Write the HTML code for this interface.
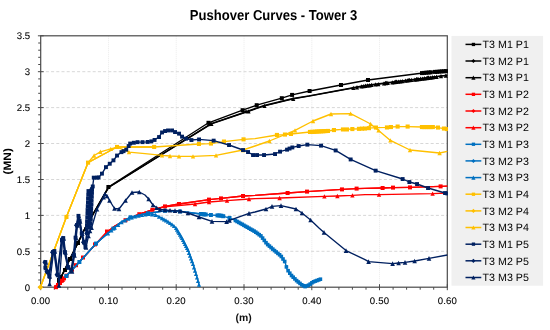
<!DOCTYPE html>
<html lang="en"><head><meta charset="utf-8"><title>Pushover Curves - Tower 3</title>
<style>html,body{margin:0;padding:0;background:#fff}svg{display:block}</style></head>
<body>
<svg width="550" height="330" viewBox="0 0 550 330" text-rendering="geometricPrecision">
<rect width="550" height="330" fill="#fff"/>
<line x1="40.7" x2="447.3" y1="251.3" y2="251.3" stroke="#cdcdcd" stroke-width="0.8" stroke-dasharray="3 2.2"/>
<line x1="40.7" x2="447.3" y1="215.4" y2="215.4" stroke="#cdcdcd" stroke-width="0.8" stroke-dasharray="3 2.2"/>
<line x1="40.7" x2="447.3" y1="179.5" y2="179.5" stroke="#cdcdcd" stroke-width="0.8" stroke-dasharray="3 2.2"/>
<line x1="40.7" x2="447.3" y1="143.5" y2="143.5" stroke="#cdcdcd" stroke-width="0.8" stroke-dasharray="3 2.2"/>
<line x1="40.7" x2="447.3" y1="107.6" y2="107.6" stroke="#cdcdcd" stroke-width="0.8" stroke-dasharray="3 2.2"/>
<line x1="40.7" x2="447.3" y1="71.7" y2="71.7" stroke="#cdcdcd" stroke-width="0.8" stroke-dasharray="3 2.2"/>
<line x1="108.5" x2="108.5" y1="35.8" y2="287.2" stroke="#e4e4e4" stroke-width="0.7" stroke-dasharray="1 1"/>
<line x1="176.2" x2="176.2" y1="35.8" y2="287.2" stroke="#e4e4e4" stroke-width="0.7" stroke-dasharray="1 1"/>
<line x1="244.0" x2="244.0" y1="35.8" y2="287.2" stroke="#e4e4e4" stroke-width="0.7" stroke-dasharray="1 1"/>
<line x1="311.8" x2="311.8" y1="35.8" y2="287.2" stroke="#e4e4e4" stroke-width="0.7" stroke-dasharray="1 1"/>
<line x1="379.5" x2="379.5" y1="35.8" y2="287.2" stroke="#e4e4e4" stroke-width="0.7" stroke-dasharray="1 1"/>
<rect x="40.7" y="35.8" width="406.6" height="251.4" fill="none" stroke="#4a4a4a" stroke-width="1.2"/>
<path d="M37.9 287.2H43.7M38.2 280.0H40.7M38.2 272.8H40.7M38.2 265.7H40.7M38.2 258.5H40.7M37.9 251.3H43.7M38.2 244.1H40.7M38.2 236.9H40.7M38.2 229.7H40.7M38.2 222.6H40.7M37.9 215.4H43.7M38.2 208.2H40.7M38.2 201.0H40.7M38.2 193.8H40.7M38.2 186.6H40.7M37.9 179.5H43.7M38.2 172.3H40.7M38.2 165.1H40.7M38.2 157.9H40.7M38.2 150.7H40.7M37.9 143.5H43.7M38.2 136.4H40.7M38.2 129.2H40.7M38.2 122.0H40.7M38.2 114.8H40.7M37.9 107.6H43.7M38.2 100.4H40.7M38.2 93.3H40.7M38.2 86.1H40.7M38.2 78.9H40.7M37.9 71.7H43.7M38.2 64.5H40.7M38.2 57.3H40.7M38.2 50.2H40.7M38.2 43.0H40.7M37.9 35.8H43.7M40.7 284.2V290.2M54.3 287.2V289.7M67.8 287.2V289.7M81.4 287.2V289.7M94.9 287.2V289.7M108.5 284.2V290.2M122.0 287.2V289.7M135.6 287.2V289.7M149.1 287.2V289.7M162.7 287.2V289.7M176.2 284.2V290.2M189.8 287.2V289.7M203.3 287.2V289.7M216.9 287.2V289.7M230.4 287.2V289.7M244.0 284.2V290.2M257.6 287.2V289.7M271.1 287.2V289.7M284.7 287.2V289.7M298.2 287.2V289.7M311.8 284.2V290.2M325.3 287.2V289.7M338.9 287.2V289.7M352.4 287.2V289.7M366.0 287.2V289.7M379.5 284.2V290.2M393.1 287.2V289.7M406.6 287.2V289.7M420.2 287.2V289.7M433.7 287.2V289.7M447.3 284.2V290.2" stroke="#4a4a4a" stroke-width="1" fill="none"/>
<svg x="37.7" y="32.8" width="410.2" height="257.4" viewBox="37.7 32.8 410.2 257.4">
<polyline fill="none" stroke="#000000" stroke-width="1.35" stroke-linejoin="round" points="56.0,287.2 59.0,280.0 61.0,277.0 65.0,270.0 70.0,259.0 78.0,243.0 86.0,226.0 108.4,187.0 208.5,122.8 242.6,110.2 256.7,105.2 281.8,98.2 292.1,94.9 309.6,91.0 341.0,85.0 368.0,80.0 423.0,73.0 434.0,72.0 447.3,71.0"/>
<rect x="57.0" y="278.0" width="4.0" height="4.0" fill="#000000"/><rect x="59.0" y="275.0" width="4.0" height="4.0" fill="#000000"/><rect x="63.0" y="268.0" width="4.0" height="4.0" fill="#000000"/><rect x="68.0" y="257.0" width="4.0" height="4.0" fill="#000000"/><rect x="76.0" y="241.0" width="4.0" height="4.0" fill="#000000"/><rect x="106.4" y="185.0" width="4.0" height="4.0" fill="#000000"/><rect x="206.5" y="120.8" width="4.0" height="4.0" fill="#000000"/><rect x="240.6" y="108.2" width="4.0" height="4.0" fill="#000000"/><rect x="254.7" y="103.2" width="4.0" height="4.0" fill="#000000"/><rect x="279.8" y="96.2" width="4.0" height="4.0" fill="#000000"/><rect x="290.1" y="92.9" width="4.0" height="4.0" fill="#000000"/><rect x="307.6" y="89.0" width="4.0" height="4.0" fill="#000000"/><rect x="339.0" y="83.0" width="4.0" height="4.0" fill="#000000"/><rect x="366.0" y="78.0" width="4.0" height="4.0" fill="#000000"/><rect x="420.0" y="71.1" width="4.0" height="4.0" fill="#000000"/><rect x="422.2" y="70.9" width="4.0" height="4.0" fill="#000000"/><rect x="424.4" y="70.7" width="4.0" height="4.0" fill="#000000"/><rect x="426.6" y="70.5" width="4.0" height="4.0" fill="#000000"/><rect x="428.8" y="70.3" width="4.0" height="4.0" fill="#000000"/><rect x="433.0" y="69.9" width="4.0" height="4.0" fill="#000000"/><rect x="435.2" y="69.8" width="4.0" height="4.0" fill="#000000"/><rect x="437.4" y="69.6" width="4.0" height="4.0" fill="#000000"/><rect x="439.6" y="69.4" width="4.0" height="4.0" fill="#000000"/><rect x="441.8" y="69.3" width="4.0" height="4.0" fill="#000000"/><rect x="444.0" y="69.1" width="4.0" height="4.0" fill="#000000"/>
<polyline fill="none" stroke="#000000" stroke-width="1.35" stroke-linejoin="round" points="56.0,287.2 86.0,226.3 108.6,187.3 211.2,123.6 248.3,111.0 264.2,105.5 293.0,98.5 309.0,95.9 365.0,85.5 447.3,75.1"/>
<path d="M108.6 185.3L110.6 187.3L108.6 189.3L106.6 187.3Z" fill="#000000"/><path d="M209.8 122.5L211.8 124.5L209.8 126.5L207.8 124.5Z" fill="#000000"/><path d="M246.0 109.8L248.0 111.8L246.0 113.8L244.0 111.8Z" fill="#000000"/><path d="M386.0 80.8L388.0 82.8L386.0 84.8L384.0 82.8Z" fill="#000000"/><path d="M396.0 79.6L398.0 81.6L396.0 83.6L394.0 81.6Z" fill="#000000"/><path d="M409.0 77.9L411.0 79.9L409.0 81.9L407.0 79.9Z" fill="#000000"/><path d="M417.0 76.9L419.0 78.9L417.0 80.9L415.0 78.9Z" fill="#000000"/><path d="M428.0 75.5L430.0 77.5L428.0 79.5L426.0 77.5Z" fill="#000000"/>
<polyline fill="none" stroke="#000000" stroke-width="1.35" stroke-linejoin="round" points="56.0,287.2 86.0,226.5 108.7,187.5 211.4,123.9 248.5,111.3 264.4,105.8 293.2,98.8 309.0,96.2 365.0,85.8 447.3,75.4"/>
<path d="M211.4 121.8L213.5 126.0L209.3 126.0Z" fill="#000000"/><path d="M248.5 109.2L250.6 113.4L246.4 113.4Z" fill="#000000"/><path d="M264.4 103.7L266.5 107.9L262.3 107.9Z" fill="#000000"/><path d="M293.2 96.7L295.3 100.9L291.1 100.9Z" fill="#000000"/><path d="M353.3 85.8L355.4 90.1L351.2 90.1Z" fill="#000000"/><path d="M357.0 85.1L359.1 89.4L354.9 89.4Z" fill="#000000"/><path d="M361.5 84.3L363.6 88.6L359.4 88.6Z" fill="#000000"/><path d="M363.5 83.9L365.6 88.2L361.4 88.2Z" fill="#000000"/><path d="M365.5 83.6L367.6 87.9L363.4 87.9Z" fill="#000000"/><path d="M367.5 83.3L369.6 87.6L365.4 87.6Z" fill="#000000"/><path d="M369.5 83.1L371.6 87.4L367.4 87.4Z" fill="#000000"/><path d="M371.5 82.8L373.6 87.1L369.4 87.1Z" fill="#000000"/><path d="M375.5 82.3L377.6 86.6L373.4 86.6Z" fill="#000000"/><path d="M378.3 82.0L380.4 86.3L376.2 86.3Z" fill="#000000"/><path d="M384.0 81.3L386.1 85.5L381.9 85.5Z" fill="#000000"/><path d="M385.9 81.0L388.0 85.3L383.8 85.3Z" fill="#000000"/><path d="M387.8 80.8L389.9 85.1L385.7 85.1Z" fill="#000000"/><path d="M392.4 80.2L394.5 84.5L390.3 84.5Z" fill="#000000"/><path d="M394.4 79.9L396.5 84.2L392.3 84.2Z" fill="#000000"/><path d="M396.4 79.7L398.5 84.0L394.3 84.0Z" fill="#000000"/><path d="M398.4 79.4L400.5 83.7L396.3 83.7Z" fill="#000000"/><path d="M400.4 79.2L402.5 83.5L398.3 83.5Z" fill="#000000"/><path d="M402.4 78.9L404.5 83.2L400.3 83.2Z" fill="#000000"/><path d="M405.6 78.5L407.7 82.8L403.5 82.8Z" fill="#000000"/><path d="M407.5 78.3L409.6 82.6L405.4 82.6Z" fill="#000000"/><path d="M409.4 78.0L411.5 82.3L407.3 82.3Z" fill="#000000"/><path d="M411.3 77.8L413.4 82.1L409.2 82.1Z" fill="#000000"/><path d="M414.8 77.4L416.9 81.7L412.7 81.7Z" fill="#000000"/><path d="M416.7 77.1L418.8 81.4L414.6 81.4Z" fill="#000000"/><path d="M418.6 76.9L420.7 81.2L416.5 81.2Z" fill="#000000"/><path d="M420.5 76.6L422.6 80.9L418.4 80.9Z" fill="#000000"/><path d="M422.6 76.4L424.7 80.7L420.5 80.7Z" fill="#000000"/><path d="M424.6 76.1L426.7 80.4L422.5 80.4Z" fill="#000000"/><path d="M426.6 75.9L428.7 80.2L424.5 80.2Z" fill="#000000"/><path d="M428.6 75.6L430.7 79.9L426.5 79.9Z" fill="#000000"/><path d="M430.6 75.4L432.7 79.7L428.5 79.7Z" fill="#000000"/><path d="M432.6 75.1L434.7 79.4L430.5 79.4Z" fill="#000000"/><path d="M434.6 74.9L436.7 79.1L432.5 79.1Z" fill="#000000"/><path d="M436.6 74.6L438.7 78.9L434.5 78.9Z" fill="#000000"/><path d="M441.0 74.1L443.1 78.3L438.9 78.3Z" fill="#000000"/><path d="M445.8 73.4L447.9 77.7L443.7 77.7Z" fill="#000000"/>
<polyline fill="none" stroke="#FF0000" stroke-width="1.35" stroke-linejoin="round" points="56.0,287.2 105.8,233.3 114.5,226.3 125.5,220.2 139.3,214.2 152.4,209.8 165.0,206.4 179.0,204.0 209.0,199.6 221.0,198.4 243.0,196.0 255.0,195.4 287.6,193.0 307.0,191.6 342.0,189.4 356.6,188.6 365.0,188.4 382.6,188.0 393.0,187.6 410.0,187.4 440.6,186.4 447.3,186.2"/>
<rect x="54.0" y="285.2" width="4.0" height="4.0" fill="#FF0000"/><rect x="56.0" y="283.0" width="4.0" height="4.0" fill="#FF0000"/><rect x="58.0" y="280.8" width="4.0" height="4.0" fill="#FF0000"/><rect x="60.0" y="278.6" width="4.0" height="4.0" fill="#FF0000"/><rect x="62.0" y="276.4" width="4.0" height="4.0" fill="#FF0000"/><rect x="64.5" y="273.7" width="4.0" height="4.0" fill="#FF0000"/><rect x="70.0" y="267.6" width="4.0" height="4.0" fill="#FF0000"/><rect x="74.0" y="263.2" width="4.0" height="4.0" fill="#FF0000"/><rect x="81.0" y="255.5" width="4.0" height="4.0" fill="#FF0000"/><rect x="93.0" y="242.4" width="4.0" height="4.0" fill="#FF0000"/><rect x="105.0" y="229.5" width="4.0" height="4.0" fill="#FF0000"/><rect x="123.5" y="218.2" width="4.0" height="4.0" fill="#FF0000"/><rect x="137.3" y="212.2" width="4.0" height="4.0" fill="#FF0000"/><rect x="150.4" y="207.8" width="4.0" height="4.0" fill="#FF0000"/><rect x="163.0" y="204.4" width="4.0" height="4.0" fill="#FF0000"/><rect x="177.0" y="202.0" width="4.0" height="4.0" fill="#FF0000"/><rect x="207.0" y="197.6" width="4.0" height="4.0" fill="#FF0000"/><rect x="219.0" y="196.4" width="4.0" height="4.0" fill="#FF0000"/><rect x="241.0" y="194.0" width="4.0" height="4.0" fill="#FF0000"/><rect x="285.6" y="191.0" width="4.0" height="4.0" fill="#FF0000"/><rect x="305.0" y="189.6" width="4.0" height="4.0" fill="#FF0000"/><rect x="340.0" y="187.4" width="4.0" height="4.0" fill="#FF0000"/><rect x="354.6" y="186.6" width="4.0" height="4.0" fill="#FF0000"/><rect x="380.6" y="186.0" width="4.0" height="4.0" fill="#FF0000"/><rect x="391.0" y="185.6" width="4.0" height="4.0" fill="#FF0000"/><rect x="408.0" y="185.4" width="4.0" height="4.0" fill="#FF0000"/><rect x="438.6" y="184.4" width="4.0" height="4.0" fill="#FF0000"/>
<polyline fill="none" stroke="#FF0000" stroke-width="1.35" stroke-linejoin="round" points="56.0,287.2 105.8,233.3 114.5,226.3 125.5,220.2 139.3,214.2 152.4,209.8 165.0,206.4 179.0,204.0 209.0,199.6 221.0,198.4 243.0,196.0 255.0,195.4 287.6,193.0 307.0,191.6 342.0,189.4 356.6,188.6 365.0,188.4 382.6,188.0 393.0,187.6 410.0,187.4 440.6,186.4 447.3,186.2"/>
<path d="M57.0 283.6L59.5 286.1L57.0 288.6L54.5 286.1Z" fill="#FF0000"/><path d="M59.0 281.4L61.5 283.9L59.0 286.4L56.5 283.9Z" fill="#FF0000"/><path d="M61.0 279.2L63.5 281.7L61.0 284.2L58.5 281.7Z" fill="#FF0000"/>
<polyline fill="none" stroke="#FF0000" stroke-width="1.35" stroke-linejoin="round" points="56.0,287.2 105.8,233.3 114.5,226.3 125.5,220.2 139.3,214.2 152.4,210.0 165.0,206.8 195.0,204.0 209.0,202.0 227.0,200.6 249.0,199.0 255.0,198.6 279.6,198.0 324.4,196.4 337.4,196.0 352.4,195.4 365.0,194.6 379.0,194.6 432.6,193.6 447.3,193.0"/>
<path d="M57.5 283.4L59.7 287.8L55.3 287.8Z" fill="#FF0000"/><path d="M60.0 280.6L62.2 285.0L57.8 285.0Z" fill="#FF0000"/><path d="M63.0 277.3L65.2 281.7L60.8 281.7Z" fill="#FF0000"/><path d="M195.0 201.8L197.2 206.2L192.8 206.2Z" fill="#FF0000"/><path d="M209.0 199.8L211.2 204.2L206.8 204.2Z" fill="#FF0000"/><path d="M227.0 198.4L229.2 202.8L224.8 202.8Z" fill="#FF0000"/><path d="M249.0 196.8L251.2 201.2L246.8 201.2Z" fill="#FF0000"/><path d="M279.6 195.8L281.8 200.2L277.4 200.2Z" fill="#FF0000"/><path d="M324.4 194.2L326.6 198.6L322.2 198.6Z" fill="#FF0000"/><path d="M337.4 193.8L339.6 198.2L335.2 198.2Z" fill="#FF0000"/><path d="M352.4 193.2L354.6 197.6L350.2 197.6Z" fill="#FF0000"/><path d="M379.0 192.4L381.2 196.8L376.8 196.8Z" fill="#FF0000"/><path d="M432.6 191.4L434.8 195.8L430.4 195.8Z" fill="#FF0000"/>
<polyline fill="none" stroke="#0070C0" stroke-width="1.35" stroke-linejoin="round" points="66.4,276.0 79.4,262.0 96.0,243.6 113.4,228.6 121.8,221.6 130.5,217.3 139.3,215.0 148.0,213.3 157.0,212.0 165.0,210.8 175.0,211.0 185.0,212.0 201.0,214.0 211.0,215.0 221.0,215.6 229.0,217.8 233.8,219.6 245.5,226.2 255.0,231.6 261.0,236.0 267.0,244.0 275.0,251.0 281.0,256.0 285.0,262.0 287.0,269.0 291.0,275.0 297.0,281.0 302.0,285.0 305.0,286.6 309.0,285.0 313.0,282.0 321.0,279.0"/>
<rect x="64.4" y="274.0" width="4.0" height="4.0" fill="#0070C0"/><rect x="77.4" y="260.0" width="4.0" height="4.0" fill="#0070C0"/><rect x="94.0" y="241.6" width="4.0" height="4.0" fill="#0070C0"/><rect x="111.4" y="226.6" width="4.0" height="4.0" fill="#0070C0"/><rect x="128.5" y="215.3" width="4.0" height="4.0" fill="#0070C0"/><rect x="146.0" y="211.3" width="4.0" height="4.0" fill="#0070C0"/><rect x="163.0" y="208.8" width="4.0" height="4.0" fill="#0070C0"/><rect x="178.0" y="209.5" width="4.0" height="4.0" fill="#0070C0"/><rect x="198.9" y="212.0" width="4.0" height="4.0" fill="#0070C0"/><rect x="200.5" y="212.2" width="4.0" height="4.0" fill="#0070C0"/><rect x="202.1" y="212.3" width="4.0" height="4.0" fill="#0070C0"/><rect x="203.7" y="212.5" width="4.0" height="4.0" fill="#0070C0"/><rect x="208.9" y="213.0" width="4.0" height="4.0" fill="#0070C0"/><rect x="215.5" y="213.4" width="4.0" height="4.0" fill="#0070C0"/><rect x="217.4" y="213.5" width="4.0" height="4.0" fill="#0070C0"/><rect x="219.3" y="213.7" width="4.0" height="4.0" fill="#0070C0"/><rect x="221.2" y="214.2" width="4.0" height="4.0" fill="#0070C0"/><rect x="227.5" y="216.0" width="4.0" height="4.0" fill="#0070C0"/>
<rect x="233.6" y="218.7" width="3.6" height="3.6" fill="#0070C0"/><rect x="235.3" y="219.7" width="3.6" height="3.6" fill="#0070C0"/><rect x="237.0" y="220.6" width="3.6" height="3.6" fill="#0070C0"/><rect x="238.7" y="221.6" width="3.6" height="3.6" fill="#0070C0"/><rect x="240.4" y="222.5" width="3.6" height="3.6" fill="#0070C0"/><rect x="242.1" y="223.5" width="3.6" height="3.6" fill="#0070C0"/><rect x="243.8" y="224.5" width="3.6" height="3.6" fill="#0070C0"/><rect x="245.5" y="225.4" width="3.6" height="3.6" fill="#0070C0"/><rect x="247.2" y="226.4" width="3.6" height="3.6" fill="#0070C0"/><rect x="248.9" y="227.4" width="3.6" height="3.6" fill="#0070C0"/><rect x="250.6" y="228.3" width="3.6" height="3.6" fill="#0070C0"/><rect x="252.3" y="229.3" width="3.6" height="3.6" fill="#0070C0"/><rect x="254.0" y="230.4" width="3.6" height="3.6" fill="#0070C0"/><rect x="255.7" y="231.6" width="3.6" height="3.6" fill="#0070C0"/><rect x="257.4" y="232.9" width="3.6" height="3.6" fill="#0070C0"/><rect x="259.1" y="234.1" width="3.6" height="3.6" fill="#0070C0"/><rect x="260.8" y="236.3" width="3.6" height="3.6" fill="#0070C0"/><rect x="262.5" y="238.6" width="3.6" height="3.6" fill="#0070C0"/><rect x="264.2" y="240.9" width="3.6" height="3.6" fill="#0070C0"/><rect x="265.9" y="242.8" width="3.6" height="3.6" fill="#0070C0"/><rect x="267.6" y="244.3" width="3.6" height="3.6" fill="#0070C0"/><rect x="269.3" y="245.8" width="3.6" height="3.6" fill="#0070C0"/><rect x="271.0" y="247.3" width="3.6" height="3.6" fill="#0070C0"/><rect x="272.7" y="248.8" width="3.6" height="3.6" fill="#0070C0"/><rect x="274.4" y="250.2" width="3.6" height="3.6" fill="#0070C0"/><rect x="276.1" y="251.6" width="3.6" height="3.6" fill="#0070C0"/><rect x="277.8" y="253.0" width="3.6" height="3.6" fill="#0070C0"/><rect x="279.5" y="254.7" width="3.6" height="3.6" fill="#0070C0"/><rect x="281.2" y="257.2" width="3.6" height="3.6" fill="#0070C0"/><rect x="282.9" y="259.7" width="3.6" height="3.6" fill="#0070C0"/><rect x="284.6" y="265.1" width="3.6" height="3.6" fill="#0070C0"/><rect x="286.3" y="268.9" width="3.6" height="3.6" fill="#0070C0"/><rect x="288.0" y="271.4" width="3.6" height="3.6" fill="#0070C0"/><rect x="289.7" y="273.7" width="3.6" height="3.6" fill="#0070C0"/><rect x="291.4" y="275.4" width="3.6" height="3.6" fill="#0070C0"/><rect x="293.1" y="277.1" width="3.6" height="3.6" fill="#0070C0"/><rect x="294.8" y="278.8" width="3.6" height="3.6" fill="#0070C0"/><rect x="296.5" y="280.2" width="3.6" height="3.6" fill="#0070C0"/><rect x="298.2" y="281.6" width="3.6" height="3.6" fill="#0070C0"/><rect x="299.9" y="283.0" width="3.6" height="3.6" fill="#0070C0"/><rect x="301.6" y="283.9" width="3.6" height="3.6" fill="#0070C0"/><rect x="303.3" y="284.8" width="3.6" height="3.6" fill="#0070C0"/><rect x="305.0" y="284.1" width="3.6" height="3.6" fill="#0070C0"/><rect x="306.7" y="283.4" width="3.6" height="3.6" fill="#0070C0"/><rect x="308.4" y="282.3" width="3.6" height="3.6" fill="#0070C0"/><rect x="310.1" y="281.0" width="3.6" height="3.6" fill="#0070C0"/><rect x="311.8" y="280.0" width="3.6" height="3.6" fill="#0070C0"/><rect x="313.5" y="279.3" width="3.6" height="3.6" fill="#0070C0"/><rect x="315.2" y="278.7" width="3.6" height="3.6" fill="#0070C0"/><rect x="316.9" y="278.1" width="3.6" height="3.6" fill="#0070C0"/><rect x="318.6" y="277.4" width="3.6" height="3.6" fill="#0070C0"/>
<polyline fill="none" stroke="#0070C0" stroke-width="1.35" stroke-linejoin="round" points="66.4,276.0 79.4,262.0 96.0,243.6 113.4,228.6 121.8,221.6 130.5,217.3 139.3,215.0 148.0,213.3 157.0,212.0 165.0,210.8 175.0,211.0 185.0,212.0 201.0,214.0"/>
<path d="M66.4 273.9L68.5 276.0L66.4 278.1L64.3 276.0Z" fill="#0070C0"/><path d="M96.0 241.5L98.1 243.6L96.0 245.7L93.9 243.6Z" fill="#0070C0"/>
<polyline fill="none" stroke="#0070C0" stroke-width="1.35" stroke-linejoin="round" points="66.4,276.0 79.4,262.0 96.0,243.6 113.4,228.8 121.8,221.9 130.5,217.6 139.3,215.4 148.0,213.8 155.0,214.6 161.0,217.6 167.0,221.0 173.0,225.0 176.0,228.0 182.0,238.0 188.0,250.0 193.0,264.0 196.6,276.0 199.6,286.8"/>
<path d="M108.0 231.3L110.1 235.5L105.9 235.5Z" fill="#0070C0"/><path d="M111.4 228.4L113.5 232.6L109.3 232.6Z" fill="#0070C0"/><path d="M114.8 225.6L116.9 229.7L112.7 229.7Z" fill="#0070C0"/><path d="M118.2 222.8L120.3 226.9L116.1 226.9Z" fill="#0070C0"/><path d="M121.6 220.0L123.7 224.2L119.5 224.2Z" fill="#0070C0"/><path d="M125.0 218.2L127.1 222.4L122.9 222.4Z" fill="#0070C0"/><path d="M128.4 216.5L130.5 220.7L126.3 220.7Z" fill="#0070C0"/><path d="M131.8 215.2L133.9 219.4L129.7 219.4Z" fill="#0070C0"/><path d="M135.2 214.3L137.3 218.5L133.1 218.5Z" fill="#0070C0"/><path d="M138.6 213.5L140.7 217.7L136.5 217.7Z" fill="#0070C0"/><path d="M142.0 212.8L144.1 217.0L139.9 217.0Z" fill="#0070C0"/><path d="M145.4 212.2L147.5 216.4L143.3 216.4Z" fill="#0070C0"/><path d="M148.8 211.8L150.9 216.0L146.7 216.0Z" fill="#0070C0"/><path d="M152.2 212.2L154.3 216.4L150.1 216.4Z" fill="#0070C0"/><path d="M155.6 212.8L157.7 217.0L153.5 217.0Z" fill="#0070C0"/><path d="M159.0 214.5L161.1 218.7L156.9 218.7Z" fill="#0070C0"/><path d="M162.0 216.1L164.1 220.3L159.9 220.3Z" fill="#0070C0"/><path d="M164.0 217.2L166.1 221.4L161.9 221.4Z" fill="#0070C0"/><path d="M166.0 218.3L168.1 222.5L163.9 222.5Z" fill="#0070C0"/><path d="M168.0 219.6L170.1 223.8L165.9 223.8Z" fill="#0070C0"/><path d="M170.0 220.9L172.1 225.1L167.9 225.1Z" fill="#0070C0"/><path d="M172.0 222.2L174.1 226.4L169.9 226.4Z" fill="#0070C0"/><path d="M174.0 223.9L176.1 228.1L171.9 228.1Z" fill="#0070C0"/><path d="M176.0 225.9L178.1 230.1L173.9 230.1Z" fill="#0070C0"/><path d="M177.0 227.6L179.1 231.8L174.9 231.8Z" fill="#0070C0"/><path d="M178.0 229.2L180.1 233.4L175.9 233.4Z" fill="#0070C0"/><path d="M179.0 230.9L181.1 235.1L176.9 235.1Z" fill="#0070C0"/><path d="M180.0 232.6L182.1 236.8L177.9 236.8Z" fill="#0070C0"/><path d="M181.0 234.2L183.1 238.4L178.9 238.4Z" fill="#0070C0"/><path d="M182.0 235.9L184.1 240.1L179.9 240.1Z" fill="#0070C0"/><path d="M183.0 237.9L185.1 242.1L180.9 242.1Z" fill="#0070C0"/><path d="M184.0 239.9L186.1 244.1L181.9 244.1Z" fill="#0070C0"/><path d="M185.0 241.9L187.1 246.1L182.9 246.1Z" fill="#0070C0"/><path d="M186.0 243.9L188.1 248.1L183.9 248.1Z" fill="#0070C0"/><path d="M187.0 245.9L189.1 250.1L184.9 250.1Z" fill="#0070C0"/><path d="M188.0 247.9L190.1 252.1L185.9 252.1Z" fill="#0070C0"/><path d="M189.0 250.7L191.1 254.9L186.9 254.9Z" fill="#0070C0"/><path d="M190.0 253.5L192.1 257.7L187.9 257.7Z" fill="#0070C0"/><path d="M191.0 256.3L193.1 260.5L188.9 260.5Z" fill="#0070C0"/><path d="M192.0 259.1L194.1 263.3L189.9 263.3Z" fill="#0070C0"/><path d="M193.0 261.9L195.1 266.1L190.9 266.1Z" fill="#0070C0"/><path d="M194.0 265.2L196.1 269.4L191.9 269.4Z" fill="#0070C0"/><path d="M195.0 268.6L197.1 272.8L192.9 272.8Z" fill="#0070C0"/><path d="M196.0 271.9L198.1 276.1L193.9 276.1Z" fill="#0070C0"/><path d="M197.0 275.4L199.1 279.5L194.9 279.5Z" fill="#0070C0"/><path d="M198.0 279.0L200.1 283.1L195.9 283.1Z" fill="#0070C0"/><path d="M199.0 282.6L201.1 286.7L196.9 286.7Z" fill="#0070C0"/>
<polyline fill="none" stroke="#FFC000" stroke-width="1.35" stroke-linejoin="round" points="40.4,287.2 66.4,217.0 88.0,162.7 117.1,147.0 154.2,147.0 199.0,144.0 211.0,143.6 224.0,141.6 243.6,139.4 255.0,138.6 277.0,135.0 285.0,134.6 291.0,134.0 310.0,132.0 328.0,131.0 334.0,130.0 343.0,129.4 347.0,129.4 352.4,129.0 365.0,128.6 369.0,128.2 376.0,127.6 387.0,127.4 391.0,127.0 397.6,126.6 407.6,126.6 422.0,127.0 433.0,127.0 438.0,127.6 444.0,128.6 447.3,129.0"/>
<rect x="64.4" y="214.9" width="4.1" height="4.1" fill="#FFC000"/><rect x="86.0" y="160.6" width="4.1" height="4.1" fill="#FFC000"/><rect x="115.0" y="144.9" width="4.1" height="4.1" fill="#FFC000"/><rect x="152.1" y="144.9" width="4.1" height="4.1" fill="#FFC000"/><rect x="196.9" y="141.9" width="4.1" height="4.1" fill="#FFC000"/><rect x="208.9" y="141.5" width="4.1" height="4.1" fill="#FFC000"/><rect x="221.9" y="139.5" width="4.1" height="4.1" fill="#FFC000"/><rect x="241.5" y="137.3" width="4.1" height="4.1" fill="#FFC000"/><rect x="274.9" y="132.9" width="4.1" height="4.1" fill="#FFC000"/><rect x="282.9" y="132.5" width="4.1" height="4.1" fill="#FFC000"/><rect x="288.9" y="131.9" width="4.1" height="4.1" fill="#FFC000"/><rect x="307.9" y="129.9" width="4.1" height="4.1" fill="#FFC000"/><rect x="309.8" y="129.8" width="4.1" height="4.1" fill="#FFC000"/><rect x="311.6" y="129.8" width="4.1" height="4.1" fill="#FFC000"/><rect x="313.3" y="129.6" width="4.1" height="4.1" fill="#FFC000"/><rect x="315.1" y="129.5" width="4.1" height="4.1" fill="#FFC000"/><rect x="316.9" y="129.4" width="4.1" height="4.1" fill="#FFC000"/><rect x="318.8" y="129.3" width="4.1" height="4.1" fill="#FFC000"/><rect x="320.6" y="129.2" width="4.1" height="4.1" fill="#FFC000"/><rect x="322.3" y="129.1" width="4.1" height="4.1" fill="#FFC000"/><rect x="324.1" y="129.0" width="4.1" height="4.1" fill="#FFC000"/><rect x="325.9" y="128.9" width="4.1" height="4.1" fill="#FFC000"/><rect x="331.9" y="128.0" width="4.1" height="4.1" fill="#FFC000"/><rect x="340.9" y="127.4" width="4.1" height="4.1" fill="#FFC000"/><rect x="344.9" y="127.4" width="4.1" height="4.1" fill="#FFC000"/><rect x="350.3" y="127.0" width="4.1" height="4.1" fill="#FFC000"/><rect x="356.9" y="126.8" width="4.1" height="4.1" fill="#FFC000"/><rect x="359.9" y="126.6" width="4.1" height="4.1" fill="#FFC000"/><rect x="362.9" y="126.5" width="4.1" height="4.1" fill="#FFC000"/><rect x="366.9" y="126.1" width="4.1" height="4.1" fill="#FFC000"/><rect x="373.9" y="125.5" width="4.1" height="4.1" fill="#FFC000"/><rect x="384.9" y="125.4" width="4.1" height="4.1" fill="#FFC000"/><rect x="388.9" y="125.0" width="4.1" height="4.1" fill="#FFC000"/><rect x="395.6" y="124.5" width="4.1" height="4.1" fill="#FFC000"/><rect x="405.6" y="124.5" width="4.1" height="4.1" fill="#FFC000"/><rect x="419.9" y="125.0" width="4.1" height="4.1" fill="#FFC000"/><rect x="421.8" y="125.0" width="4.1" height="4.1" fill="#FFC000"/><rect x="423.6" y="125.0" width="4.1" height="4.1" fill="#FFC000"/><rect x="425.3" y="125.0" width="4.1" height="4.1" fill="#FFC000"/><rect x="427.1" y="125.0" width="4.1" height="4.1" fill="#FFC000"/><rect x="428.9" y="125.0" width="4.1" height="4.1" fill="#FFC000"/><rect x="430.8" y="125.0" width="4.1" height="4.1" fill="#FFC000"/><rect x="435.9" y="125.5" width="4.1" height="4.1" fill="#FFC000"/><rect x="441.9" y="126.5" width="4.1" height="4.1" fill="#FFC000"/><rect x="444.9" y="127.0" width="4.1" height="4.1" fill="#FFC000"/>
<polyline fill="none" stroke="#FFC000" stroke-width="1.35" stroke-linejoin="round" points="40.4,287.2 66.4,217.0 88.0,162.7 117.1,147.0 154.2,147.0"/>
<path d="M40.4 284.3L43.3 287.2L40.4 290.1L37.5 287.2Z" fill="#FFC000"/>
<polyline fill="none" stroke="#FFC000" stroke-width="1.35" stroke-linejoin="round" points="40.4,287.2 66.4,217.0 88.0,162.7 94.1,155.5 100.4,151.8 110.8,148.9 117.1,147.2 129.0,152.1 145.0,153.6 162.0,155.4 170.0,156.0 179.0,156.4 193.0,156.4 216.0,155.4 243.0,150.0 255.0,146.0 269.4,141.0 295.0,130.4 313.0,121.0 331.0,114.0 350.6,113.6 365.0,121.0 370.6,124.0 378.6,130.4 390.4,140.4 410.0,150.0 439.6,153.0 447.3,151.4"/>
<path d="M94.1 153.3L96.3 157.7L91.9 157.7Z" fill="#FFC000"/><path d="M100.4 149.6L102.6 154.0L98.2 154.0Z" fill="#FFC000"/><path d="M110.8 146.7L113.0 151.1L108.6 151.1Z" fill="#FFC000"/><path d="M129.0 149.9L131.2 154.3L126.8 154.3Z" fill="#FFC000"/><path d="M162.0 153.2L164.2 157.6L159.8 157.6Z" fill="#FFC000"/><path d="M170.0 153.8L172.2 158.2L167.8 158.2Z" fill="#FFC000"/><path d="M179.0 154.2L181.2 158.6L176.8 158.6Z" fill="#FFC000"/><path d="M193.0 154.2L195.2 158.6L190.8 158.6Z" fill="#FFC000"/><path d="M216.0 153.2L218.2 157.6L213.8 157.6Z" fill="#FFC000"/><path d="M243.0 147.8L245.2 152.2L240.8 152.2Z" fill="#FFC000"/><path d="M269.4 138.8L271.6 143.2L267.2 143.2Z" fill="#FFC000"/><path d="M295.0 128.2L297.2 132.6L292.8 132.6Z" fill="#FFC000"/><path d="M313.0 118.8L315.2 123.2L310.8 123.2Z" fill="#FFC000"/><path d="M331.0 111.8L333.2 116.2L328.8 116.2Z" fill="#FFC000"/><path d="M350.6 111.4L352.8 115.8L348.4 115.8Z" fill="#FFC000"/><path d="M370.6 121.8L372.8 126.2L368.4 126.2Z" fill="#FFC000"/><path d="M378.6 128.2L380.8 132.6L376.4 132.6Z" fill="#FFC000"/><path d="M390.4 138.2L392.6 142.6L388.2 142.6Z" fill="#FFC000"/><path d="M410.0 147.8L412.2 152.2L407.8 152.2Z" fill="#FFC000"/><path d="M439.6 150.8L441.8 155.2L437.4 155.2Z" fill="#FFC000"/>
<polyline fill="none" stroke="#002060" stroke-width="1.35" stroke-linejoin="round" points="45.4,262.0 45.4,267.5 47.5,271.5 49.3,276.0 53.0,252.0 54.4,251.0 57.6,274.5 62.0,240.0 63.3,238.0 65.0,252.0 68.3,267.0 71.5,271.0 74.0,255.0 75.6,237.6 77.0,225.0 78.5,215.8 79.6,221.0 81.8,233.3 84.0,242.0 85.5,247.0 87.3,233.0 86.8,229.0 90.3,227.1 87.0,225.2 90.5,223.3 87.1,221.4 90.7,219.5 87.3,217.6 90.8,215.7 87.5,213.8 91.0,211.9 87.6,210.0 91.2,208.1 87.8,206.2 91.4,204.3 88.0,202.4 91.6,200.5 88.1,198.6 91.8,196.7 88.3,194.8 92.0,192.9 88.5,191.0 92.1,189.1 92.7,186.4 93.8,177.6 97.0,177.6 98.6,177.4 102.0,173.6 105.9,167.1 109.8,163.7 113.5,160.3 117.1,155.5 121.5,152.1 123.6,151.1 126.3,149.6 128.7,146.0 130.2,143.5 133.8,142.7 137.5,142.1 142.5,142.1 147.6,141.9 151.3,141.3 154.5,139.9 159.0,137.0 162.0,132.4 165.0,131.0 168.0,130.4 172.0,130.4 175.0,132.0 179.0,133.6 182.0,136.6 186.0,138.6 191.4,140.0 199.0,139.4 213.6,140.6 229.0,145.0 243.0,150.0 248.0,152.0 253.0,155.0 257.0,155.0 264.0,155.0 275.0,154.0 280.0,151.6 287.0,149.6 289.5,148.5 292.4,147.4 298.6,146.0 307.4,144.6 321.0,145.6 335.6,150.4 350.6,159.4 375.6,170.6 402.6,179.0 409.4,182.0 417.0,184.0 428.0,188.0 445.0,193.0 447.3,193.4"/>
<rect x="43.4" y="260.1" width="3.9" height="3.9" fill="#002060"/><rect x="43.4" y="265.6" width="3.9" height="3.9" fill="#002060"/><rect x="45.5" y="269.6" width="3.9" height="3.9" fill="#002060"/><rect x="47.3" y="274.1" width="3.9" height="3.9" fill="#002060"/><rect x="51.0" y="250.1" width="3.9" height="3.9" fill="#002060"/><rect x="52.4" y="249.1" width="3.9" height="3.9" fill="#002060"/><rect x="55.6" y="272.6" width="3.9" height="3.9" fill="#002060"/><rect x="60.0" y="238.1" width="3.9" height="3.9" fill="#002060"/><rect x="61.3" y="236.1" width="3.9" height="3.9" fill="#002060"/><rect x="63.0" y="250.1" width="3.9" height="3.9" fill="#002060"/><rect x="66.3" y="265.1" width="3.9" height="3.9" fill="#002060"/><rect x="69.5" y="269.1" width="3.9" height="3.9" fill="#002060"/><rect x="72.0" y="253.1" width="3.9" height="3.9" fill="#002060"/><rect x="73.6" y="235.7" width="3.9" height="3.9" fill="#002060"/><rect x="75.0" y="223.1" width="3.9" height="3.9" fill="#002060"/><rect x="76.5" y="213.9" width="3.9" height="3.9" fill="#002060"/><rect x="77.6" y="219.1" width="3.9" height="3.9" fill="#002060"/><rect x="79.8" y="231.4" width="3.9" height="3.9" fill="#002060"/><rect x="82.0" y="240.1" width="3.9" height="3.9" fill="#002060"/><rect x="83.5" y="245.1" width="3.9" height="3.9" fill="#002060"/><rect x="85.3" y="231.1" width="3.9" height="3.9" fill="#002060"/><rect x="84.8" y="227.1" width="3.9" height="3.9" fill="#002060"/><rect x="88.3" y="225.2" width="3.9" height="3.9" fill="#002060"/><rect x="85.0" y="223.2" width="3.9" height="3.9" fill="#002060"/><rect x="88.5" y="221.4" width="3.9" height="3.9" fill="#002060"/><rect x="85.1" y="219.5" width="3.9" height="3.9" fill="#002060"/><rect x="88.8" y="217.6" width="3.9" height="3.9" fill="#002060"/><rect x="85.3" y="215.7" width="3.9" height="3.9" fill="#002060"/><rect x="88.8" y="213.8" width="3.9" height="3.9" fill="#002060"/><rect x="85.5" y="211.9" width="3.9" height="3.9" fill="#002060"/><rect x="89.0" y="210.0" width="3.9" height="3.9" fill="#002060"/><rect x="85.6" y="208.1" width="3.9" height="3.9" fill="#002060"/><rect x="89.2" y="206.2" width="3.9" height="3.9" fill="#002060"/><rect x="85.8" y="204.2" width="3.9" height="3.9" fill="#002060"/><rect x="89.5" y="202.4" width="3.9" height="3.9" fill="#002060"/><rect x="86.0" y="200.5" width="3.9" height="3.9" fill="#002060"/><rect x="89.6" y="198.6" width="3.9" height="3.9" fill="#002060"/><rect x="86.1" y="196.7" width="3.9" height="3.9" fill="#002060"/><rect x="89.8" y="194.8" width="3.9" height="3.9" fill="#002060"/><rect x="86.3" y="192.9" width="3.9" height="3.9" fill="#002060"/><rect x="90.0" y="191.0" width="3.9" height="3.9" fill="#002060"/><rect x="86.5" y="189.1" width="3.9" height="3.9" fill="#002060"/><rect x="90.1" y="187.2" width="3.9" height="3.9" fill="#002060"/><rect x="90.8" y="184.5" width="3.9" height="3.9" fill="#002060"/><rect x="91.8" y="175.7" width="3.9" height="3.9" fill="#002060"/><rect x="95.0" y="175.7" width="3.9" height="3.9" fill="#002060"/><rect x="96.6" y="175.5" width="3.9" height="3.9" fill="#002060"/><rect x="100.0" y="171.7" width="3.9" height="3.9" fill="#002060"/><rect x="104.0" y="165.2" width="3.9" height="3.9" fill="#002060"/><rect x="107.8" y="161.8" width="3.9" height="3.9" fill="#002060"/><rect x="111.5" y="158.4" width="3.9" height="3.9" fill="#002060"/><rect x="115.1" y="153.6" width="3.9" height="3.9" fill="#002060"/><rect x="119.5" y="150.2" width="3.9" height="3.9" fill="#002060"/><rect x="121.6" y="149.2" width="3.9" height="3.9" fill="#002060"/><rect x="124.3" y="147.7" width="3.9" height="3.9" fill="#002060"/><rect x="126.7" y="144.1" width="3.9" height="3.9" fill="#002060"/><rect x="128.2" y="141.6" width="3.9" height="3.9" fill="#002060"/><rect x="131.9" y="140.8" width="3.9" height="3.9" fill="#002060"/><rect x="135.6" y="140.2" width="3.9" height="3.9" fill="#002060"/><rect x="140.6" y="140.2" width="3.9" height="3.9" fill="#002060"/><rect x="145.7" y="140.0" width="3.9" height="3.9" fill="#002060"/><rect x="149.4" y="139.4" width="3.9" height="3.9" fill="#002060"/><rect x="152.6" y="138.0" width="3.9" height="3.9" fill="#002060"/><rect x="157.1" y="135.1" width="3.9" height="3.9" fill="#002060"/><rect x="160.1" y="130.5" width="3.9" height="3.9" fill="#002060"/><rect x="163.1" y="129.1" width="3.9" height="3.9" fill="#002060"/><rect x="166.1" y="128.5" width="3.9" height="3.9" fill="#002060"/><rect x="170.1" y="128.5" width="3.9" height="3.9" fill="#002060"/><rect x="173.1" y="130.1" width="3.9" height="3.9" fill="#002060"/><rect x="177.1" y="131.7" width="3.9" height="3.9" fill="#002060"/><rect x="180.1" y="134.7" width="3.9" height="3.9" fill="#002060"/><rect x="184.1" y="136.7" width="3.9" height="3.9" fill="#002060"/><rect x="189.5" y="138.1" width="3.9" height="3.9" fill="#002060"/><rect x="197.1" y="137.5" width="3.9" height="3.9" fill="#002060"/><rect x="211.7" y="138.7" width="3.9" height="3.9" fill="#002060"/><rect x="227.1" y="143.1" width="3.9" height="3.9" fill="#002060"/><rect x="241.1" y="148.1" width="3.9" height="3.9" fill="#002060"/><rect x="246.1" y="150.1" width="3.9" height="3.9" fill="#002060"/><rect x="251.1" y="153.1" width="3.9" height="3.9" fill="#002060"/><rect x="255.1" y="153.1" width="3.9" height="3.9" fill="#002060"/><rect x="262.1" y="153.1" width="3.9" height="3.9" fill="#002060"/><rect x="273.1" y="152.1" width="3.9" height="3.9" fill="#002060"/><rect x="278.1" y="149.7" width="3.9" height="3.9" fill="#002060"/><rect x="285.1" y="147.7" width="3.9" height="3.9" fill="#002060"/><rect x="287.6" y="146.6" width="3.9" height="3.9" fill="#002060"/><rect x="290.4" y="145.5" width="3.9" height="3.9" fill="#002060"/><rect x="296.7" y="144.1" width="3.9" height="3.9" fill="#002060"/><rect x="305.4" y="142.7" width="3.9" height="3.9" fill="#002060"/><rect x="319.1" y="143.7" width="3.9" height="3.9" fill="#002060"/><rect x="333.7" y="148.5" width="3.9" height="3.9" fill="#002060"/><rect x="348.7" y="157.5" width="3.9" height="3.9" fill="#002060"/><rect x="373.7" y="168.7" width="3.9" height="3.9" fill="#002060"/><rect x="400.7" y="177.1" width="3.9" height="3.9" fill="#002060"/><rect x="407.4" y="180.1" width="3.9" height="3.9" fill="#002060"/><rect x="415.1" y="182.1" width="3.9" height="3.9" fill="#002060"/><rect x="426.1" y="186.1" width="3.9" height="3.9" fill="#002060"/><rect x="443.1" y="191.1" width="3.9" height="3.9" fill="#002060"/><rect x="445.4" y="191.5" width="3.9" height="3.9" fill="#002060"/>
<polyline fill="none" stroke="#002060" stroke-width="1.35" stroke-linejoin="round" points="44.8,262.2 44.8,267.7 46.9,271.7 48.7,276.2 52.4,252.2 53.8,251.2 57.0,274.7 61.4,240.2 62.7,238.2 64.4,252.2 67.7,267.2 70.9,271.2 73.4,255.2 75.0,237.8 76.4,225.2 77.9,216.0 79.0,221.2 81.2,233.5 83.4,242.2 84.9,247.2 86.7,233.2 86.2,229.2 89.7,227.3 86.4,225.4 89.9,223.5 86.5,221.6 90.1,219.7 86.7,217.8 90.2,215.9 86.9,214.0 90.4,212.1 87.0,210.2 90.6,208.3 87.2,206.4 90.8,204.5 87.4,202.6 91.0,200.7 87.5,198.8 91.2,196.9 87.7,195.0 91.4,193.1 87.9,191.2 91.5,189.3 92.1,186.6"/>
<path d="M44.8 259.7L47.3 262.2L44.8 264.7L42.3 262.2Z" fill="#002060"/><path d="M46.9 269.2L49.4 271.7L46.9 274.2L44.4 271.7Z" fill="#002060"/><path d="M52.4 249.7L54.9 252.2L52.4 254.7L49.9 252.2Z" fill="#002060"/><path d="M57.0 272.2L59.5 274.7L57.0 277.2L54.5 274.7Z" fill="#002060"/><path d="M62.7 235.7L65.2 238.2L62.7 240.7L60.2 238.2Z" fill="#002060"/><path d="M67.7 264.7L70.2 267.2L67.7 269.7L65.2 267.2Z" fill="#002060"/><path d="M73.4 252.7L75.9 255.2L73.4 257.7L70.9 255.2Z" fill="#002060"/><path d="M76.4 222.7L78.9 225.2L76.4 227.7L73.9 225.2Z" fill="#002060"/><path d="M79.0 218.7L81.5 221.2L79.0 223.7L76.5 221.2Z" fill="#002060"/><path d="M83.4 239.7L85.9 242.2L83.4 244.7L80.9 242.2Z" fill="#002060"/><path d="M86.7 230.7L89.2 233.2L86.7 235.7L84.2 233.2Z" fill="#002060"/><path d="M89.7 224.8L92.2 227.3L89.7 229.8L87.2 227.3Z" fill="#002060"/><path d="M89.9 221.0L92.4 223.5L89.9 226.0L87.4 223.5Z" fill="#002060"/><path d="M90.1 217.2L92.6 219.7L90.1 222.2L87.6 219.7Z" fill="#002060"/><path d="M90.2 213.4L92.7 215.9L90.2 218.4L87.7 215.9Z" fill="#002060"/><path d="M90.4 209.6L92.9 212.1L90.4 214.6L87.9 212.1Z" fill="#002060"/><path d="M90.6 205.8L93.1 208.3L90.6 210.8L88.1 208.3Z" fill="#002060"/><path d="M90.8 202.0L93.3 204.5L90.8 207.0L88.3 204.5Z" fill="#002060"/><path d="M91.0 198.2L93.5 200.7L91.0 203.2L88.5 200.7Z" fill="#002060"/><path d="M91.2 194.4L93.7 196.9L91.2 199.4L88.7 196.9Z" fill="#002060"/><path d="M91.4 190.6L93.9 193.1L91.4 195.6L88.9 193.1Z" fill="#002060"/><path d="M91.5 186.8L94.0 189.3L91.5 191.8L89.0 189.3Z" fill="#002060"/>
<polyline fill="none" stroke="#002060" stroke-width="1.35" stroke-linejoin="round" points="45.9,262.5 45.9,268.0 48.0,272.0 49.8,276.5 49.6,284.0 53.5,252.5 54.9,251.5 58.1,275.0 59.0,285.5 62.5,240.5 63.8,238.5 65.5,252.5 68.8,267.5 72.0,271.5 74.5,255.5 76.1,238.1 77.5,225.5 79.0,216.3 80.1,221.5 82.3,233.8 84.5,242.5 86.0,247.5 88.5,236.0 90.0,231.0 91.6,227.8 97.0,209.3 103.6,197.3 105.0,194.0 107.0,196.0 109.5,200.5 114.5,208.5 119.0,209.0 125.5,200.5 132.0,192.5 139.3,192.0 145.0,195.0 148.7,199.0 153.0,205.0 156.7,207.8 160.0,209.4 165.0,210.0 170.0,210.3 175.0,210.6 180.0,211.0 188.0,213.0 199.0,217.0 212.0,221.4 226.6,221.6 229.5,220.4 249.0,213.4 255.0,212.0 266.0,209.0 272.0,206.4 281.0,205.6 296.0,209.0 302.0,213.0 310.6,220.0 319.0,228.0 324.0,232.4 346.0,250.6 365.0,259.6 368.6,261.6 392.6,263.6 398.6,263.0 405.0,262.4 414.6,261.0 429.0,258.4 447.3,255.0"/>
<path d="M45.9 260.2L48.2 264.8L43.6 264.8Z" fill="#002060"/><path d="M45.9 265.7L48.2 270.3L43.6 270.3Z" fill="#002060"/><path d="M48.0 269.7L50.3 274.3L45.7 274.3Z" fill="#002060"/><path d="M49.8 274.2L52.1 278.8L47.5 278.8Z" fill="#002060"/><path d="M49.6 281.7L51.9 286.3L47.3 286.3Z" fill="#002060"/><path d="M53.5 250.2L55.8 254.8L51.2 254.8Z" fill="#002060"/><path d="M54.9 249.2L57.2 253.8L52.6 253.8Z" fill="#002060"/><path d="M58.1 272.7L60.4 277.3L55.8 277.3Z" fill="#002060"/><path d="M59.0 283.2L61.3 287.8L56.7 287.8Z" fill="#002060"/><path d="M62.5 238.2L64.8 242.8L60.2 242.8Z" fill="#002060"/><path d="M63.8 236.2L66.1 240.8L61.5 240.8Z" fill="#002060"/><path d="M65.5 250.2L67.8 254.8L63.2 254.8Z" fill="#002060"/><path d="M68.8 265.2L71.1 269.8L66.5 269.8Z" fill="#002060"/><path d="M72.0 269.2L74.3 273.8L69.7 273.8Z" fill="#002060"/><path d="M74.5 253.2L76.8 257.8L72.2 257.8Z" fill="#002060"/><path d="M76.1 235.8L78.4 240.4L73.8 240.4Z" fill="#002060"/><path d="M77.5 223.2L79.8 227.8L75.2 227.8Z" fill="#002060"/><path d="M79.0 214.0L81.3 218.6L76.7 218.6Z" fill="#002060"/><path d="M80.1 219.2L82.4 223.8L77.8 223.8Z" fill="#002060"/><path d="M82.3 231.5L84.6 236.1L80.0 236.1Z" fill="#002060"/><path d="M84.5 240.2L86.8 244.8L82.2 244.8Z" fill="#002060"/><path d="M86.0 245.2L88.3 249.8L83.7 249.8Z" fill="#002060"/><path d="M88.5 233.7L90.8 238.3L86.2 238.3Z" fill="#002060"/><path d="M90.0 228.7L92.3 233.3L87.7 233.3Z" fill="#002060"/><path d="M91.6 225.5L93.9 230.1L89.3 230.1Z" fill="#002060"/><path d="M97.0 207.0L99.3 211.6L94.7 211.6Z" fill="#002060"/><path d="M103.6 195.0L105.9 199.6L101.3 199.6Z" fill="#002060"/><path d="M105.0 191.7L107.3 196.3L102.7 196.3Z" fill="#002060"/><path d="M107.0 193.7L109.3 198.3L104.7 198.3Z" fill="#002060"/><path d="M109.5 198.2L111.8 202.8L107.2 202.8Z" fill="#002060"/><path d="M114.5 206.2L116.8 210.8L112.2 210.8Z" fill="#002060"/><path d="M119.0 206.7L121.3 211.3L116.7 211.3Z" fill="#002060"/><path d="M125.5 198.2L127.8 202.8L123.2 202.8Z" fill="#002060"/><path d="M132.0 190.2L134.3 194.8L129.7 194.8Z" fill="#002060"/><path d="M139.3 189.7L141.6 194.3L137.0 194.3Z" fill="#002060"/><path d="M148.7 196.7L151.0 201.3L146.4 201.3Z" fill="#002060"/><path d="M153.0 202.7L155.3 207.3L150.7 207.3Z" fill="#002060"/><path d="M156.7 205.5L159.0 210.1L154.4 210.1Z" fill="#002060"/><path d="M160.0 207.1L162.3 211.7L157.7 211.7Z" fill="#002060"/><path d="M165.0 207.7L167.3 212.3L162.7 212.3Z" fill="#002060"/><path d="M170.0 208.0L172.3 212.6L167.7 212.6Z" fill="#002060"/><path d="M175.0 208.3L177.3 212.9L172.7 212.9Z" fill="#002060"/><path d="M180.0 208.7L182.3 213.3L177.7 213.3Z" fill="#002060"/><path d="M188.0 210.7L190.3 215.3L185.7 215.3Z" fill="#002060"/><path d="M199.0 214.7L201.3 219.3L196.7 219.3Z" fill="#002060"/><path d="M212.0 219.1L214.3 223.7L209.7 223.7Z" fill="#002060"/><path d="M226.6 219.3L228.9 223.9L224.3 223.9Z" fill="#002060"/><path d="M229.5 218.1L231.8 222.7L227.2 222.7Z" fill="#002060"/><path d="M249.0 211.1L251.3 215.7L246.7 215.7Z" fill="#002060"/><path d="M266.0 206.7L268.3 211.3L263.7 211.3Z" fill="#002060"/><path d="M272.0 204.1L274.3 208.7L269.7 208.7Z" fill="#002060"/><path d="M281.0 203.3L283.3 207.9L278.7 207.9Z" fill="#002060"/><path d="M296.0 206.7L298.3 211.3L293.7 211.3Z" fill="#002060"/><path d="M302.0 210.7L304.3 215.3L299.7 215.3Z" fill="#002060"/><path d="M310.6 217.7L312.9 222.3L308.3 222.3Z" fill="#002060"/><path d="M324.0 230.1L326.3 234.7L321.7 234.7Z" fill="#002060"/><path d="M346.0 248.3L348.3 252.9L343.7 252.9Z" fill="#002060"/><path d="M368.6 259.3L370.9 263.9L366.3 263.9Z" fill="#002060"/><path d="M392.6 261.3L394.9 265.9L390.3 265.9Z" fill="#002060"/><path d="M398.6 260.7L400.9 265.3L396.3 265.3Z" fill="#002060"/><path d="M405.0 260.1L407.3 264.7L402.7 264.7Z" fill="#002060"/><path d="M414.6 258.7L416.9 263.3L412.3 263.3Z" fill="#002060"/><path d="M429.0 256.1L431.3 260.7L426.7 260.7Z" fill="#002060"/>
</svg>
<text x="30.2" y="290.5" text-anchor="end" font-size="9.6" fill="#000" stroke="#000" stroke-width="0.1" font-family="Liberation Sans, sans-serif">0</text>
<text x="30.2" y="254.6" text-anchor="end" font-size="9.6" fill="#000" stroke="#000" stroke-width="0.1" font-family="Liberation Sans, sans-serif">0.5</text>
<text x="30.2" y="218.7" text-anchor="end" font-size="9.6" fill="#000" stroke="#000" stroke-width="0.1" font-family="Liberation Sans, sans-serif">1</text>
<text x="30.2" y="182.8" text-anchor="end" font-size="9.6" fill="#000" stroke="#000" stroke-width="0.1" font-family="Liberation Sans, sans-serif">1.5</text>
<text x="30.2" y="146.8" text-anchor="end" font-size="9.6" fill="#000" stroke="#000" stroke-width="0.1" font-family="Liberation Sans, sans-serif">2</text>
<text x="30.2" y="110.9" text-anchor="end" font-size="9.6" fill="#000" stroke="#000" stroke-width="0.1" font-family="Liberation Sans, sans-serif">2.5</text>
<text x="30.2" y="75.0" text-anchor="end" font-size="9.6" fill="#000" stroke="#000" stroke-width="0.1" font-family="Liberation Sans, sans-serif">3</text>
<text x="30.2" y="39.1" text-anchor="end" font-size="9.6" fill="#000" stroke="#000" stroke-width="0.1" font-family="Liberation Sans, sans-serif">3.5</text>
<text x="40.7" y="304.2" text-anchor="middle" font-size="9.6" letter-spacing="0.15" fill="#000" stroke="#000" stroke-width="0.1" font-family="Liberation Sans, sans-serif">0.00</text>
<text x="108.5" y="304.2" text-anchor="middle" font-size="9.6" letter-spacing="0.15" fill="#000" stroke="#000" stroke-width="0.1" font-family="Liberation Sans, sans-serif">0.10</text>
<text x="176.2" y="304.2" text-anchor="middle" font-size="9.6" letter-spacing="0.15" fill="#000" stroke="#000" stroke-width="0.1" font-family="Liberation Sans, sans-serif">0.20</text>
<text x="244.0" y="304.2" text-anchor="middle" font-size="9.6" letter-spacing="0.15" fill="#000" stroke="#000" stroke-width="0.1" font-family="Liberation Sans, sans-serif">0.30</text>
<text x="311.8" y="304.2" text-anchor="middle" font-size="9.6" letter-spacing="0.15" fill="#000" stroke="#000" stroke-width="0.1" font-family="Liberation Sans, sans-serif">0.40</text>
<text x="379.5" y="304.2" text-anchor="middle" font-size="9.6" letter-spacing="0.15" fill="#000" stroke="#000" stroke-width="0.1" font-family="Liberation Sans, sans-serif">0.50</text>
<text x="447.3" y="304.2" text-anchor="middle" font-size="9.6" letter-spacing="0.15" fill="#000" stroke="#000" stroke-width="0.1" font-family="Liberation Sans, sans-serif">0.60</text>
<text x="273.5" y="19.9" text-anchor="middle" font-size="14.4" font-weight="bold" fill="#000" textLength="167.4" lengthAdjust="spacingAndGlyphs" font-family="Liberation Sans, sans-serif">Pushover Curves - Tower 3</text>
<text x="243.6" y="321.2" text-anchor="middle" font-size="10.4" font-weight="bold" fill="#111" font-family="Liberation Sans, sans-serif">(m)</text>
<text transform="translate(11.2 161.3) rotate(-90)" text-anchor="middle" font-size="10.8" font-weight="bold" fill="#000" textLength="26.2" lengthAdjust="spacingAndGlyphs" font-family="Liberation Sans, sans-serif">(MN)</text>
<rect x="451.5" y="35.9" width="91.6" height="249.8" fill="#f0f0f0"/>
<line x1="465.5" x2="481.3" y1="44.4" y2="44.4" stroke="#000000" stroke-width="1.5"/>
<rect x="471.8" y="42.8" width="3.3" height="3.3" fill="#000000"/>
<text x="482.6" y="48.1" font-size="10.7" fill="#000" textLength="46.3" lengthAdjust="spacingAndGlyphs" font-family="Liberation Sans, sans-serif">T3 M1 P1</text>
<line x1="465.5" x2="481.3" y1="61.0" y2="61.0" stroke="#000000" stroke-width="1.5"/>
<path d="M473.4 59.0L475.5 61.0L473.4 63.1L471.3 61.0Z" fill="#000000"/>
<text x="482.6" y="64.8" font-size="10.7" fill="#000" textLength="46.3" lengthAdjust="spacingAndGlyphs" font-family="Liberation Sans, sans-serif">T3 M2 P1</text>
<line x1="465.5" x2="481.3" y1="77.7" y2="77.7" stroke="#000000" stroke-width="1.5"/>
<path d="M473.4 75.6L475.5 79.8L471.3 79.8Z" fill="#000000"/>
<text x="482.6" y="81.4" font-size="10.7" fill="#000" textLength="46.3" lengthAdjust="spacingAndGlyphs" font-family="Liberation Sans, sans-serif">T3 M3 P1</text>
<line x1="465.5" x2="481.3" y1="94.3" y2="94.3" stroke="#FF0000" stroke-width="1.5"/>
<rect x="471.8" y="92.7" width="3.3" height="3.3" fill="#FF0000"/>
<text x="482.6" y="98.0" font-size="10.7" fill="#000" textLength="46.3" lengthAdjust="spacingAndGlyphs" font-family="Liberation Sans, sans-serif">T3 M1 P2</text>
<line x1="465.5" x2="481.3" y1="111.0" y2="111.0" stroke="#FF0000" stroke-width="1.5"/>
<path d="M473.4 108.9L475.5 111.0L473.4 113.1L471.3 111.0Z" fill="#FF0000"/>
<text x="482.6" y="114.7" font-size="10.7" fill="#000" textLength="46.3" lengthAdjust="spacingAndGlyphs" font-family="Liberation Sans, sans-serif">T3 M2 P2</text>
<line x1="465.5" x2="481.3" y1="127.7" y2="127.7" stroke="#FF0000" stroke-width="1.5"/>
<path d="M473.4 125.6L475.5 129.7L471.3 129.7Z" fill="#FF0000"/>
<text x="482.6" y="131.3" font-size="10.7" fill="#000" textLength="46.3" lengthAdjust="spacingAndGlyphs" font-family="Liberation Sans, sans-serif">T3 M3 P2</text>
<line x1="465.5" x2="481.3" y1="144.3" y2="144.3" stroke="#0070C0" stroke-width="1.5"/>
<rect x="471.8" y="142.6" width="3.3" height="3.3" fill="#0070C0"/>
<text x="482.6" y="148.0" font-size="10.7" fill="#000" textLength="46.3" lengthAdjust="spacingAndGlyphs" font-family="Liberation Sans, sans-serif">T3 M1 P3</text>
<line x1="465.5" x2="481.3" y1="160.9" y2="160.9" stroke="#0070C0" stroke-width="1.5"/>
<path d="M473.4 158.9L475.5 160.9L473.4 163.0L471.3 160.9Z" fill="#0070C0"/>
<text x="482.6" y="164.6" font-size="10.7" fill="#000" textLength="46.3" lengthAdjust="spacingAndGlyphs" font-family="Liberation Sans, sans-serif">T3 M2 P3</text>
<line x1="465.5" x2="481.3" y1="177.6" y2="177.6" stroke="#0070C0" stroke-width="1.5"/>
<path d="M473.4 175.5L475.5 179.7L471.3 179.7Z" fill="#0070C0"/>
<text x="482.6" y="181.3" font-size="10.7" fill="#000" textLength="46.3" lengthAdjust="spacingAndGlyphs" font-family="Liberation Sans, sans-serif">T3 M3 P3</text>
<line x1="465.5" x2="481.3" y1="194.2" y2="194.2" stroke="#FFC000" stroke-width="1.5"/>
<rect x="471.8" y="192.6" width="3.3" height="3.3" fill="#FFC000"/>
<text x="482.6" y="197.9" font-size="10.7" fill="#000" textLength="46.3" lengthAdjust="spacingAndGlyphs" font-family="Liberation Sans, sans-serif">T3 M1 P4</text>
<line x1="465.5" x2="481.3" y1="210.9" y2="210.9" stroke="#FFC000" stroke-width="1.5"/>
<path d="M473.4 208.8L475.5 210.9L473.4 213.0L471.3 210.9Z" fill="#FFC000"/>
<text x="482.6" y="214.6" font-size="10.7" fill="#000" textLength="46.3" lengthAdjust="spacingAndGlyphs" font-family="Liberation Sans, sans-serif">T3 M2 P4</text>
<line x1="465.5" x2="481.3" y1="227.5" y2="227.5" stroke="#FFC000" stroke-width="1.5"/>
<path d="M473.4 225.5L475.5 229.6L471.3 229.6Z" fill="#FFC000"/>
<text x="482.6" y="231.2" font-size="10.7" fill="#000" textLength="46.3" lengthAdjust="spacingAndGlyphs" font-family="Liberation Sans, sans-serif">T3 M3 P4</text>
<line x1="465.5" x2="481.3" y1="244.2" y2="244.2" stroke="#002060" stroke-width="1.5"/>
<rect x="471.8" y="242.5" width="3.3" height="3.3" fill="#002060"/>
<text x="482.6" y="247.9" font-size="10.7" fill="#000" textLength="46.3" lengthAdjust="spacingAndGlyphs" font-family="Liberation Sans, sans-serif">T3 M1 P5</text>
<line x1="465.5" x2="481.3" y1="260.8" y2="260.8" stroke="#002060" stroke-width="1.5"/>
<path d="M473.4 258.8L475.5 260.8L473.4 262.9L471.3 260.8Z" fill="#002060"/>
<text x="482.6" y="264.5" font-size="10.7" fill="#000" textLength="46.3" lengthAdjust="spacingAndGlyphs" font-family="Liberation Sans, sans-serif">T3 M2 P5</text>
<line x1="465.5" x2="481.3" y1="277.5" y2="277.5" stroke="#002060" stroke-width="1.5"/>
<path d="M473.4 275.4L475.5 279.6L471.3 279.6Z" fill="#002060"/>
<text x="482.6" y="281.2" font-size="10.7" fill="#000" textLength="46.3" lengthAdjust="spacingAndGlyphs" font-family="Liberation Sans, sans-serif">T3 M3 P5</text>
</svg>
</body></html>
